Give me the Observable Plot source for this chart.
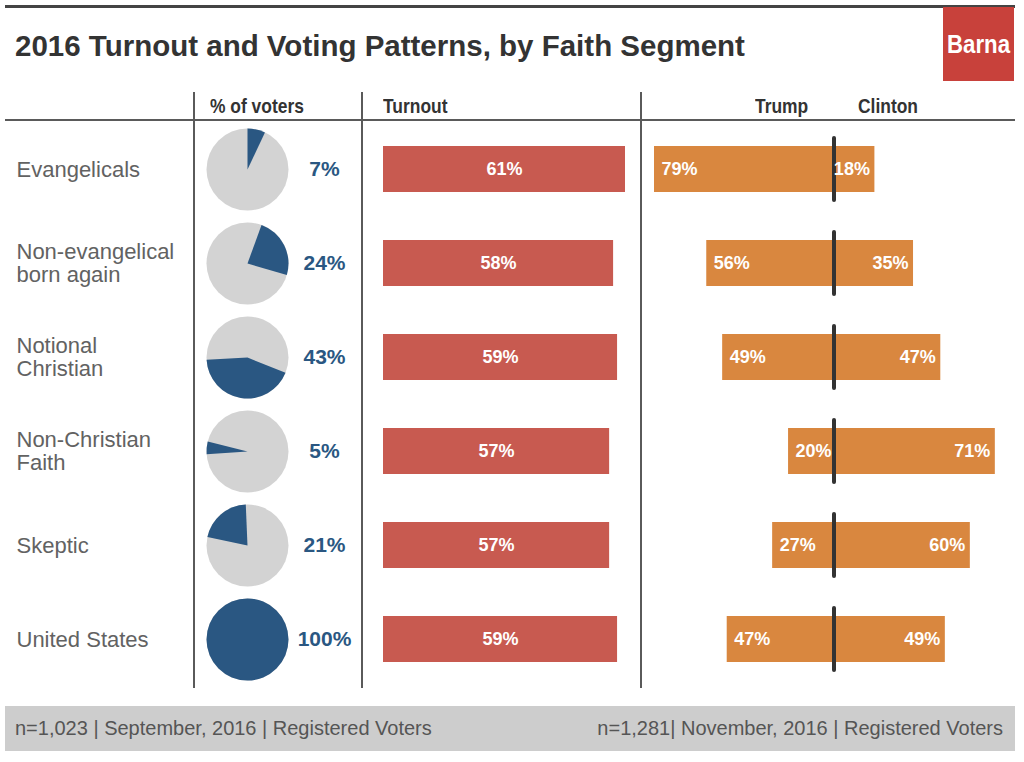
<!DOCTYPE html>
<html>
<head>
<meta charset="utf-8">
<script src="https://cdn.jsdelivr.net/npm/d3@7"></script>
<script src="https://cdn.jsdelivr.net/npm/@observablehq/plot@0.6"></script>
<style>
  body { margin: 0; background: #fff; font-family: "Liberation Sans", Arial, sans-serif; }
  #wrap { position: relative; width: 1024px; height: 762px; overflow: hidden; background: #fff; }
  .abs { position: absolute; }
  .hdr { font-weight: bold; font-size: 20.5px; color: #333; line-height: 1; white-space: nowrap; transform: scaleX(0.85); transform-origin: left center; }
  .plot { position: absolute; top: 120px; }
  .plot svg { display: block; overflow: visible; }
</style>
</head>
<body>
<div id="wrap">
  <div class="abs" style="left:5px;top:5px;width:1010px;height:3px;background:#444;"></div>
  <div class="abs" style="left:943px;top:7px;width:71px;height:74px;background:#c8413b;"></div>
  <div class="abs" id="brand" style="left:943px;top:32px;width:71px;text-align:center;color:#fff;font-weight:bold;font-size:25px;line-height:1;transform:scaleX(0.89);transform-origin:center;"></div>
  <div class="abs" id="title" style="left:15px;top:31px;font-weight:bold;font-size:29.5px;color:#333;line-height:1;white-space:nowrap;"></div>

  <div class="abs hdr" id="h0" style="left:210px;top:96px;"></div>
  <div class="abs hdr" id="h1" style="left:383px;top:96px;"></div>
  <div class="abs hdr" id="h2" style="left:755px;top:96px;"></div>
  <div class="abs hdr" id="h3" style="left:858px;top:96px;"></div>

  <div class="abs" style="left:5px;top:119px;width:1010px;height:2px;background:#5a5a5a;"></div>
  <div class="abs" style="left:193px;top:92px;width:2px;height:596px;background:#5a5a5a;"></div>
  <div class="abs" style="left:361px;top:92px;width:2px;height:596px;background:#5a5a5a;"></div>
  <div class="abs" style="left:640px;top:92px;width:2px;height:596px;background:#5a5a5a;"></div>

  <div class="plot" id="pLabels" style="left:0px;"></div>
  <div class="plot" id="pPies" style="left:194px;"></div>
  <div class="plot" id="pTurnout" style="left:362px;"></div>
  <div class="plot" id="pVote" style="left:641px;"></div>

  <div class="abs" style="left:5px;top:706px;width:1010px;height:45px;background:#cdcdcd;"></div>
  <div class="abs" id="foot1" style="left:15px;top:718px;font-size:20px;color:#555;line-height:1;white-space:nowrap;"></div>
  <div class="abs" id="foot2" style="right:21px;top:718px;font-size:20px;color:#555;line-height:1;white-space:nowrap;"></div>
</div>
<script>
// ---- data ----
const titleText = "2016 Turnout and Voting Patterns, by Faith Segment";
const brandText = "Barna";
const segments = ["Evangelicals", "Non-evangelical\nborn again", "Notional\nChristian", "Non-Christian\nFaith", "Skeptic", "United States"];
const shareOfVoters = [7, 24, 43, 5, 21, 100];
const turnout = [61, 58, 59, 57, 57, 59];
const trump = [79, 56, 49, 20, 27, 47];
const clinton = [18, 35, 47, 71, 60, 49];
const columnHeaders = ["% of voters", "Turnout", "Trump", "Clinton"];
const footnotes = ["n=1,023 | September, 2016 | Registered Voters", "n=1,281| November, 2016 | Registered Voters"];

// ---- style ----
const pieRotationDeg = [0, 20, 112, 266, 282, 0]; // where each pie slice starts (clockwise from 12 o'clock)
const colors = {pieBlue: "#2a5782", pieGray: "#d3d3d3", turnout: "#c85a50", vote: "#d9873f", divider: "#333", label: "#626262"};

document.getElementById("title").textContent = titleText;
document.getElementById("brand").textContent = brandText;
columnHeaders.forEach((h, i) => document.getElementById("h" + i).textContent = h);
document.getElementById("foot1").textContent = footnotes[0];
document.getElementById("foot2").textContent = footnotes[1];

const rows = segments.map((segment, i) => ({
  segment, share: shareOfVoters[i], turnout: turnout[i], trump: trump[i], clinton: clinton[i], rot: pieRotationDeg[i]
}));

const H = 568;
const yOpt = {domain: segments, paddingInner: 0.51, paddingOuter: 0.255, axis: null};
const baseStyle = {fontFamily: "Liberation Sans, Arial, sans-serif", background: "transparent", overflow: "visible"};

function pieSymbol(pct, rotDeg) {
  return {
    draw(ctx, size) {
      const r = Math.sqrt(size / Math.PI);
      if (pct >= 100) { ctx.moveTo(r, 0); ctx.arc(0, 0, r, 0, 2 * Math.PI); ctx.closePath(); return; }
      const a0 = (rotDeg - 90) * Math.PI / 180;
      const a1 = a0 + (pct / 100) * 2 * Math.PI;
      ctx.moveTo(0, 0);
      ctx.arc(0, 0, r, a0, a1);
      ctx.closePath();
    }
  };
}

// Labels column
document.getElementById("pLabels").append(Plot.plot({
  width: 194, height: H, margin: 0, marginLeft: 16, style: baseStyle,
  y: yOpt,
  marks: [
    Plot.text(rows, {y: "segment", text: "segment", frameAnchor: "left", textAnchor: "start",
      fontSize: 22, lineHeight: 1.05, fill: colors.label})
  ]
}));

// Pie column
document.getElementById("pPies").append(Plot.plot({
  width: 168, height: H, margin: 0, marginLeft: 53, marginRight: 38, style: baseStyle,
  x: {type: "point", domain: ["pie", "share"], padding: 0, axis: null},
  y: yOpt,
  marks: [
    Plot.dot(rows, {x: () => "pie", y: "segment", r: 41, fill: colors.pieGray}),
    ...rows.map(d => Plot.dot([d], {x: () => "pie", y: "segment", r: 41, fill: colors.pieBlue, symbol: pieSymbol(d.share, d.rot)})),
    Plot.text(rows, {x: () => "share", y: "segment", text: d => d.share + "%", fill: colors.pieBlue,
      fontWeight: "bold", fontSize: 21})
  ]
}));

// Turnout column
document.getElementById("pTurnout").append(Plot.plot({
  width: 279, height: H, margin: 0, marginLeft: 21, marginRight: 16, style: baseStyle,
  x: {domain: [0, d3.max(turnout)], axis: null},
  y: yOpt,
  marks: [
    Plot.barX(rows, {x1: () => 0, x2: "turnout", y: "segment", fill: colors.turnout}),
    Plot.text(rows, {x: d => d.turnout / 2, y: "segment", text: d => d.turnout + "%", fill: "#fff",
      fontWeight: "bold", fontSize: 18})
  ]
}));

// Vote column
const vmax = d3.max([...trump, ...clinton]);
document.getElementById("pVote").append(Plot.plot({
  width: 383, height: H, margin: 0, marginLeft: 13, marginRight: 11, style: baseStyle,
  x: {domain: [-vmax, vmax], axis: null},
  y: yOpt,
  marks: [
    Plot.barX(rows, {x1: d => -d.trump, x2: () => 0, y: "segment", fill: colors.vote}),
    Plot.barX(rows, {x1: () => 0, x2: "clinton", y: "segment", fill: colors.vote}),
    Plot.ruleX(rows, {x: () => 0, y1: "segment", y2: "segment", stroke: colors.divider, strokeWidth: 4, strokeLinecap: "round",
      insetTop: -8, insetBottom: -8}),
    Plot.text(rows, {x: d => -d.trump, y: "segment", text: d => d.trump + "%", textAnchor: "start", dx: 7,
      fill: "#fff", fontWeight: "bold", fontSize: 18}),
    Plot.text(rows, {x: "clinton", y: "segment", text: d => d.clinton + "%", textAnchor: "end", dx: -5,
      fill: "#fff", fontWeight: "bold", fontSize: 18})
  ]
}));
</script>
</body>
</html>
